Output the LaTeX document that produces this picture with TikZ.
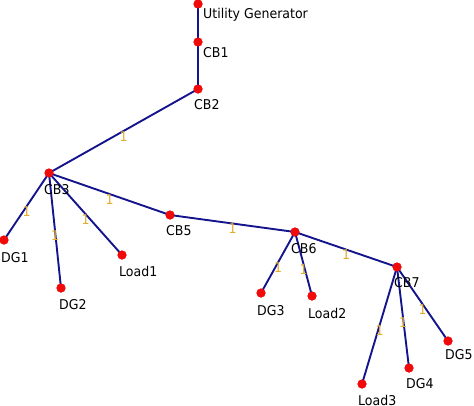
\documentclass[tikz,border=0pt]{standalone}
\usepackage{fontspec}
\setmainfont{DejaVu Sans}[FakeStretch=0.93]
\definecolor{wire}{RGB}{20,20,140}
\definecolor{dotred}{RGB}{240,10,10}
\definecolor{numc}{RGB}{226,172,45}
\tikzset{
  bus/.style={circle,fill=dotred,inner sep=0pt,minimum size=9pt},
  lbl/.style={anchor=west,inner sep=0pt,font=\fontsize{13.5}{15}\selectfont,text=black},
  wireline/.style={draw=wire,line width=1.9pt},
  one/.style={midway,yshift=-5.5pt,inner sep=0pt,font=\fontsize{13.5}{15}\selectfont,text=numc}
}
\begin{document}
\begin{tikzpicture}[x=1pt,y=-1pt]
\useasboundingbox (0,0) rectangle (474,405);
% buses
\node[bus] (ug) at (198,4) {};
\node[bus] (cb1) at (198,42) {};
\node[bus] (cb2) at (198,89) {};
\node[bus] (cb3) at (49,173) {};
\node[bus] (dg1) at (4,240) {};
\node[bus] (dg2) at (61,288) {};
\node[bus] (load1) at (122,255) {};
\node[bus] (cb5) at (170,215) {};
\node[bus] (cb6) at (295,232) {};
\node[bus] (cb7) at (397,267) {};
\node[bus] (dg3) at (261,293) {};
\node[bus] (load2) at (312,296) {};
\node[bus] (load3) at (362,384) {};
\node[bus] (dg4) at (409,368) {};
\node[bus] (dg5) at (448,341) {};
% wires
\draw[wireline] (ug.center) -- (cb1.center);
\draw[wireline] (cb1.center) -- (cb2.center);
\draw[wireline] (cb2.center) -- node[one]{1} (cb3.center);
\draw[wireline] (cb3.center) -- node[one]{1} (dg1.center);
\draw[wireline] (cb3.center) -- node[one]{1} (dg2.center);
\draw[wireline] (cb3.center) -- node[one]{1} (load1.center);
\draw[wireline] (cb3.center) -- node[one]{1} (cb5.center);
\draw[wireline] (cb5.center) -- node[one]{1} (cb6.center);
\draw[wireline] (cb6.center) -- node[one]{1} (dg3.center);
\draw[wireline] (cb6.center) -- node[one]{1} (load2.center);
\draw[wireline] (cb6.center) -- node[one]{1} (cb7.center);
\draw[wireline] (cb7.center) -- node[one]{1} (load3.center);
\draw[wireline] (cb7.center) -- node[one]{1} (dg4.center);
\draw[wireline] (cb7.center) -- node[one]{1} (dg5.center);
% redraw dots on top
\foreach \n in {ug,cb1,cb2,cb3,dg1,dg2,load1,cb5,cb6,cb7,dg3,load2,load3,dg4,dg5}
  \fill[dotred] (\n.center) circle (4.5pt);
% labels
\node[lbl] (tug) at (203,15) {Utility Generator};
\node[lbl] (tcb1) at (203,53) {CB1};
\node[lbl] (tcb2) at (194,105) {CB2};
\node[lbl] (tcb3) at (44,190) {CB3};
\node[lbl] (tdg1) at (1,258) {DG1};
\node[lbl] (tdg2) at (59,305) {DG2};
\node[lbl] (tload1) at (119,271) {Load1};
\node[lbl] (tcb5) at (166,231) {CB5};
\node[lbl] (tcb6) at (291,249) {CB6};
\node[lbl] (tcb7) at (394,283) {CB7};
\node[lbl] (tdg3) at (257,311) {DG3};
\node[lbl] (tload2) at (308,313) {Load2};
\node[lbl] (tload3) at (358,400) {Load3};
\node[lbl] (tdg4) at (406,384) {DG4};
\node[lbl] (tdg5) at (445,355) {DG5};
\end{tikzpicture}
\end{document}
